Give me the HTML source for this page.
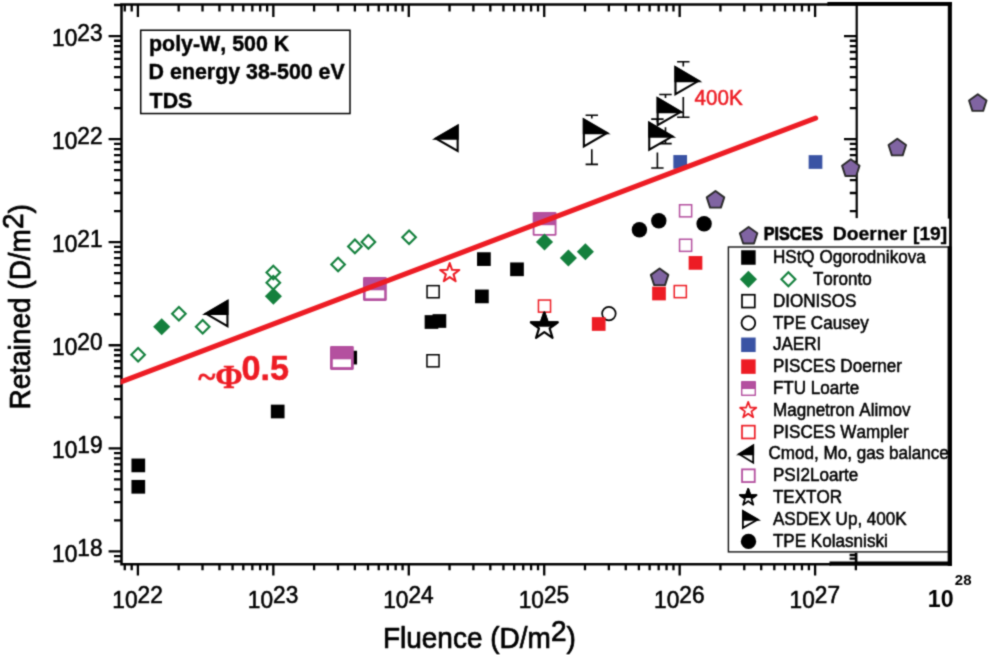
<!DOCTYPE html>
<html lang="en"><head><meta charset="utf-8"><title>Deuterium retention in tungsten vs fluence</title>
<style>html,body{margin:0;padding:0;background:#fff}body{width:994px;height:655px;overflow:hidden}svg{display:block}svg text{font-kerning:none}</style>
</head><body>
<svg width="994" height="655" viewBox="0 0 994 655">
<defs><filter id="soft" x="0" y="0" width="994" height="655" filterUnits="userSpaceOnUse" color-interpolation-filters="sRGB"><feConvolveMatrix order="3" kernelMatrix="1 3 1 3 12 3 1 3 1" divisor="28" edgeMode="duplicate" preserveAlpha="true"/></filter></defs>
<g filter="url(#soft)">
<rect width="994" height="655" fill="#fff"/>
<path d="M121.5 3.2V565.5M121.5 4.4H829M120.3 564.15H831" fill="none" stroke="#000" stroke-width="2.5"/>
<path d="M856.7 4.4V218.2" fill="none" stroke="#000" stroke-width="2.2"/>
<path d="M856.1 552.8V565" fill="none" stroke="#000" stroke-width="2.7"/>
<rect x="827.4" y="2" width="124.5" height="3.9" fill="#000"/>
<rect x="829.5" y="561.5" width="122.4" height="4.2" fill="#000"/>
<rect x="947.8" y="2" width="4.1" height="563.7" fill="#000"/>
<path d="M114 561.39H121.5M114 556.12H121.5M108.6 551.4H121.5M114 520.37H121.5M114 502.22H121.5M114 489.35H121.5M114 479.36H121.5M114 471.2H121.5M114 464.3H121.5M114 458.32H121.5M114 453.05H121.5M108.6 448.33H121.5M114 417.3H121.5M114 399.15H121.5M114 386.28H121.5M114 376.29H121.5M114 368.13H121.5M114 361.23H121.5M114 355.25H121.5M114 349.98H121.5M108.6 345.26H121.5M114 314.23H121.5M114 296.08H121.5M114 283.21H121.5M114 273.22H121.5M114 265.06H121.5M114 258.16H121.5M114 252.18H121.5M114 246.91H121.5M108.6 242.19H121.5M114 211.16H121.5M114 193.01H121.5M114 180.14H121.5M114 170.15H121.5M114 161.99H121.5M114 155.09H121.5M114 149.11H121.5M114 143.84H121.5M108.6 139.12H121.5M114 108.09H121.5M114 89.94H121.5M114 77.07H121.5M114 67.08H121.5M114 58.92H121.5M114 52.02H121.5M114 46.04H121.5M114 40.77H121.5M108.6 36.05H121.5M114 5.02H121.5M849.8 211.16H856.7M849.8 193.01H856.7M849.8 180.14H856.7M849.8 170.15H856.7M849.8 161.99H856.7M849.8 155.09H856.7M849.8 149.11H856.7M849.8 143.84H856.7M844 139.12H856.7M849.8 108.09H856.7M849.8 89.94H856.7M849.8 77.07H856.7M849.8 67.08H856.7M849.8 58.92H856.7M849.8 52.02H856.7M849.8 46.04H856.7M849.8 40.77H856.7M844 36.05H856.7M849.6 555H856.4M849.6 558.7H856.4M124.77 564.15V570.2M124.77 4.4V11.6M131.7 564.15V570.2M131.7 4.4V11.6M137.9 564.15V575.6M137.9 4.4V17.1M178.67 564.15V570.2M178.67 4.4V11.6M202.52 564.15V570.2M202.52 4.4V11.6M219.44 564.15V570.2M219.44 4.4V11.6M232.57 564.15V570.2M232.57 4.4V11.6M243.29 564.15V570.2M243.29 4.4V11.6M252.36 564.15V570.2M252.36 4.4V11.6M260.21 564.15V570.2M260.21 4.4V11.6M267.14 564.15V570.2M267.14 4.4V11.6M273.34 564.15V575.6M273.34 4.4V17.1M314.11 564.15V570.2M314.11 4.4V11.6M337.96 564.15V570.2M337.96 4.4V11.6M354.88 564.15V570.2M354.88 4.4V11.6M368.01 564.15V570.2M368.01 4.4V11.6M378.73 564.15V570.2M378.73 4.4V11.6M387.8 564.15V570.2M387.8 4.4V11.6M395.65 564.15V570.2M395.65 4.4V11.6M402.58 564.15V570.2M402.58 4.4V11.6M408.78 564.15V575.6M408.78 4.4V17.1M449.55 564.15V570.2M449.55 4.4V11.6M473.4 564.15V570.2M473.4 4.4V11.6M490.32 564.15V570.2M490.32 4.4V11.6M503.45 564.15V570.2M503.45 4.4V11.6M514.17 564.15V570.2M514.17 4.4V11.6M523.24 564.15V570.2M523.24 4.4V11.6M531.09 564.15V570.2M531.09 4.4V11.6M538.02 564.15V570.2M538.02 4.4V11.6M544.22 564.15V575.6M544.22 4.4V17.1M584.99 564.15V570.2M584.99 4.4V11.6M608.84 564.15V570.2M608.84 4.4V11.6M625.76 564.15V570.2M625.76 4.4V11.6M638.89 564.15V570.2M638.89 4.4V11.6M649.61 564.15V570.2M649.61 4.4V11.6M658.68 564.15V570.2M658.68 4.4V11.6M666.53 564.15V570.2M666.53 4.4V11.6M673.46 564.15V570.2M673.46 4.4V11.6M679.66 564.15V575.6M679.66 4.4V17.1M720.43 564.15V570.2M720.43 4.4V11.6M744.28 564.15V570.2M744.28 4.4V11.6M761.2 564.15V570.2M761.2 4.4V11.6M774.33 564.15V570.2M774.33 4.4V11.6M785.05 564.15V570.2M785.05 4.4V11.6M794.12 564.15V570.2M794.12 4.4V11.6M801.97 564.15V570.2M801.97 4.4V11.6M808.9 564.15V570.2M808.9 4.4V11.6M815.1 564.15V575.6M815.1 4.4V17.1M855.87 564.15V570.2" fill="none" stroke="#000" stroke-width="2.3"/>
<g font-family='"Liberation Sans", sans-serif' font-size="22.7" fill="#000" stroke="#000" stroke-width="0.55" stroke-linejoin="round">
<text transform="translate(52.1 561.5) scale(1 1.045)" >10<tspan dy="-4.9">18</tspan></text>
<text transform="translate(52.1 458.43) scale(1 1.045)" >10<tspan dy="-4.9">19</tspan></text>
<text transform="translate(52.1 355.36) scale(1 1.045)" >10<tspan dy="-4.9">20</tspan></text>
<text transform="translate(52.1 252.29) scale(1 1.045)" >10<tspan dy="-4.9">21</tspan></text>
<text transform="translate(52.1 149.22) scale(1 1.045)" >10<tspan dy="-4.9">22</tspan></text>
<text transform="translate(52.1 46.15) scale(1 1.045)" >10<tspan dy="-4.9">23</tspan></text>
<text transform="translate(137.6 608.3) scale(1 1.045)" text-anchor="middle">10<tspan dy="-5.3">22</tspan></text>
<text transform="translate(273.04 608.3) scale(1 1.045)" text-anchor="middle">10<tspan dy="-5.3">23</tspan></text>
<text transform="translate(408.48 608.3) scale(1 1.045)" text-anchor="middle">10<tspan dy="-5.3">24</tspan></text>
<text transform="translate(543.92 608.3) scale(1 1.045)" text-anchor="middle">10<tspan dy="-5.3">25</tspan></text>
<text transform="translate(679.36 608.3) scale(1 1.045)" text-anchor="middle">10<tspan dy="-5.3">26</tspan></text>
<text transform="translate(814.8 608.3) scale(1 1.045)" text-anchor="middle">10<tspan dy="-5.3">27</tspan></text>
</g>
<text transform="translate(927.8 606.8) scale(1 1.03)" font-family='"Liberation Sans", sans-serif' font-weight="700" font-size="23.2" fill="#000">10</text>
<text transform="translate(954.8 585.3) scale(1 1.03)" font-family='"Liberation Sans", sans-serif' font-weight="700" font-size="15" fill="#000">28</text>
<text transform="translate(382.9 647.6) scale(1 1.045)" font-family='"Liberation Sans", sans-serif' font-size="28" fill="#000" stroke="#000" stroke-width="0.7" stroke-linejoin="round">Fluence (D/m<tspan dy="-6.6">2</tspan><tspan dy="6.6">)</tspan></text>
<text transform="translate(30.2 409.5) rotate(-90) scale(1 1.045)" font-family='"Liberation Sans", sans-serif' font-size="28" fill="#000" stroke="#000" stroke-width="0.7" stroke-linejoin="round">Retained (D/m<tspan dy="-6.6">2</tspan><tspan dy="6.6">)</tspan></text>
<rect x="140.7" y="30.25" width="209.3" height="83.3" fill="#fff" stroke="#000" stroke-width="1.5"/>
<g font-family='"Liberation Sans", sans-serif' font-weight="700" font-size="21.4" fill="#000" stroke="#000" stroke-width="0.4" stroke-linejoin="round">
<text transform="translate(149 51) scale(1 1.045)" >poly-W, 500 K</text>
<text transform="translate(148.6 79.3) scale(1 1.045)" >D energy 38-500 eV</text>
<text transform="translate(149.6 107.5) scale(1 1.045)" >TDS</text>
</g>
<rect x="131.45" y="458.55" width="13.7" height="13.7" fill="#000"/>
<rect x="131.45" y="479.95" width="13.7" height="13.7" fill="#000"/>
<rect x="270.85" y="404.65" width="13.7" height="13.7" fill="#000"/>
<rect x="343.35" y="350.75" width="13.7" height="13.7" fill="#000"/>
<rect x="424.65" y="315.15" width="13.7" height="13.7" fill="#000"/>
<rect x="432.55" y="314.15" width="13.7" height="13.7" fill="#000"/>
<rect x="477.05" y="252.25" width="13.7" height="13.7" fill="#000"/>
<rect x="475.05" y="289.55" width="13.7" height="13.7" fill="#000"/>
<rect x="510.15" y="262.45" width="13.7" height="13.7" fill="#000"/>
<rect x="330" y="346.1" width="23.8" height="23.8" rx="1.3" fill="#b4509f"/><rect x="332.8" y="359.31" width="18.2" height="7.79" fill="#fff"/>
<rect x="363" y="277.1" width="23.8" height="23.8" rx="1.3" fill="#b4509f"/><rect x="365.6" y="290.31" width="18.6" height="7.99" fill="#fff"/>
<rect x="532.7" y="212" width="23.8" height="23.8" rx="1.3" fill="#b4509f"/><rect x="534.5" y="225.21" width="20.2" height="8.79" fill="#fff"/>
<rect x="673.35" y="155.05" width="13.7" height="13.7" fill="#3a53a4"/>
<rect x="808.65" y="155.15" width="13.7" height="13.7" fill="#3a53a4"/>
<clipPath id="lc"><rect x="120.6" y="0" width="880" height="655"/></clipPath>
<path d="M118 383.1L815.6 118.1" stroke="#ed1c24" stroke-width="5.15" stroke-linecap="round" fill="none" clip-path="url(#lc)"/>
<path d="M138.1 347.9L144.9 354.7L138.1 361.5L131.3 354.7Z" fill="none" stroke="#14803d" stroke-width="2.1"/>
<path d="M178.9 306.9L185.7 313.7L178.9 320.5L172.1 313.7Z" fill="none" stroke="#14803d" stroke-width="2.1"/>
<path d="M202.7 320L209.5 326.8L202.7 333.6L195.9 326.8Z" fill="none" stroke="#14803d" stroke-width="2.1"/>
<path d="M273.3 265.7L280.1 272.5L273.3 279.3L266.5 272.5Z" fill="none" stroke="#14803d" stroke-width="2.1"/>
<path d="M273.3 276L280.1 282.8L273.3 289.6L266.5 282.8Z" fill="none" stroke="#14803d" stroke-width="2.1"/>
<path d="M338.1 257.7L344.9 264.5L338.1 271.3L331.3 264.5Z" fill="none" stroke="#14803d" stroke-width="2.1"/>
<path d="M354.9 239.6L361.7 246.4L354.9 253.2L348.1 246.4Z" fill="none" stroke="#14803d" stroke-width="2.1"/>
<path d="M368.4 235.1L375.2 241.9L368.4 248.7L361.6 241.9Z" fill="none" stroke="#14803d" stroke-width="2.1"/>
<path d="M409.1 230.5L415.9 237.3L409.1 244.1L402.3 237.3Z" fill="none" stroke="#14803d" stroke-width="2.1"/>
<path d="M161.7 318.25L170.25 326.8L161.7 335.35L153.15 326.8Z" fill="#14803d"/>
<path d="M273.4 287.65L281.95 296.2L273.4 304.75L264.85 296.2Z" fill="#14803d"/>
<path d="M544.5 233.45L553.05 242L544.5 250.55L535.95 242Z" fill="#14803d"/>
<path d="M568.4 249.45L576.95 258L568.4 266.55L559.85 258Z" fill="#14803d"/>
<path d="M585.4 243.15L593.95 251.7L585.4 260.25L576.85 251.7Z" fill="#14803d"/>
<rect x="427.05" y="285.65" width="12.1" height="12.1" fill="#fff" stroke="#000" stroke-width="1.5"/>
<rect x="426.95" y="354.75" width="12.1" height="12.1" fill="#fff" stroke="#000" stroke-width="1.5"/>
<polygon points="449.7,263 452.07,269.83 459.31,269.98 453.54,274.35 455.64,281.27 449.7,277.14 443.76,281.27 445.86,274.35 440.09,269.98 447.33,269.83" fill="#fff" stroke="#ed1c24" stroke-width="2.0" stroke-linejoin="round"/>
<path d="M205.79 313.6L227.45 301.02L227.45 326.18Z" fill="#fff" stroke="#000" stroke-width="2.1" stroke-linejoin="miter"/><path d="M205.79 313.9L227.45 301.02L227.45 313.9Z" fill="#000" stroke="#000" stroke-width="2.1" stroke-linejoin="miter"/>
<path d="M435.8 138.4L457.65 125.82L457.65 150.98Z" fill="#fff" stroke="#000" stroke-width="2.1" stroke-linejoin="miter"/><path d="M435.8 138.7L457.65 125.82L457.65 138.7Z" fill="#000" stroke="#000" stroke-width="2.1" stroke-linejoin="miter"/>
<rect x="538.45" y="300.05" width="12.1" height="12.1" fill="#fff" stroke="#ed1c24" stroke-width="1.5"/>
<rect x="674.25" y="285.55" width="12.1" height="12.1" fill="#fff" stroke="#ed1c24" stroke-width="1.5"/>
<clipPath id="sc1"><rect x="527.3" y="309.6" width="34" height="17.2"/></clipPath><polygon points="544.3,312.6 547.59,322.07 557.61,322.27 549.63,328.33 552.53,337.93 544.3,332.2 536.07,337.93 538.97,328.33 530.99,322.27 541.01,322.07" fill="#fff" stroke="#000" stroke-width="2.2" stroke-linejoin="round"/><polygon points="544.3,312.6 547.59,322.07 557.61,322.27 549.63,328.33 552.53,337.93 544.3,332.2 536.07,337.93 538.97,328.33 530.99,322.27 541.01,322.07" fill="#000" stroke="#000" stroke-width="2.2" stroke-linejoin="round" clip-path="url(#sc1)"/>
<circle cx="608.9" cy="313.6" r="6.8" fill="#fff" stroke="#000" stroke-width="1.7"/>
<rect x="591.85" y="317.15" width="13.7" height="13.7" fill="#ed1c24"/>
<rect x="652.15" y="286.65" width="13.7" height="13.7" fill="#ed1c24"/>
<rect x="688.65" y="256.05" width="13.7" height="13.7" fill="#ed1c24"/>
<circle cx="639.4" cy="229.8" r="7.7" fill="#000"/>
<circle cx="658.8" cy="220.8" r="7.7" fill="#000"/>
<circle cx="704.1" cy="223.7" r="7.7" fill="#000"/>
<rect x="679.55" y="204.75" width="12.1" height="12.1" fill="#fff" stroke="#b4509f" stroke-width="1.5"/>
<rect x="679.55" y="239.25" width="12.1" height="12.1" fill="#fff" stroke="#b4509f" stroke-width="1.5"/>
<path d="M591.8 115.2V118.5M591.8 149.2V164.4M585.6 115.2H598M585.6 164.4H598" fill="none" stroke="#000" stroke-width="1.6"/>
<path d="M607.01 133L583.85 119.53L583.85 146.47Z" fill="#fff" stroke="#000" stroke-width="2.1" stroke-linejoin="miter"/><path d="M607.01 133.3L583.85 119.53L583.85 133.3Z" fill="#000" stroke="#000" stroke-width="2.1" stroke-linejoin="miter"/>
<path d="M683.3 61.7V66.5M683.3 97V117.2M677.1 61.7H689.5M677.1 117.2H689.5" fill="none" stroke="#000" stroke-width="1.6"/>
<path d="M698.61 80.8L675.45 67.33L675.45 94.27Z" fill="#fff" stroke="#000" stroke-width="2.1" stroke-linejoin="miter"/><path d="M698.61 81.1L675.45 67.33L675.45 81.1Z" fill="#000" stroke="#000" stroke-width="2.1" stroke-linejoin="miter"/>
<path d="M665.5 94.5V98M665.5 127.3V143.6M659.3 94.5H671.7M659.3 143.6H671.7" fill="none" stroke="#000" stroke-width="1.6"/>
<path d="M680.81 111.8L657.65 98.33L657.65 125.27Z" fill="#fff" stroke="#000" stroke-width="2.1" stroke-linejoin="miter"/><path d="M680.81 112.1L657.65 98.33L657.65 112.1Z" fill="#000" stroke="#000" stroke-width="2.1" stroke-linejoin="miter"/>
<path d="M657.4 119.1V122M657.4 152.4V168M651.2 119.1H663.6M651.2 168H663.6" fill="none" stroke="#000" stroke-width="1.6"/>
<path d="M672.41 136.3L649.25 122.83L649.25 149.77Z" fill="#fff" stroke="#000" stroke-width="2.1" stroke-linejoin="miter"/><path d="M672.41 136.6L649.25 122.83L649.25 136.6Z" fill="#000" stroke="#000" stroke-width="2.1" stroke-linejoin="miter"/>
<text transform="translate(694.6 104.5) scale(1 1.045)" font-family='"Liberation Sans", sans-serif' font-size="20.6" fill="#ed1c24" stroke="#ed1c24" stroke-width="0.5" stroke-linejoin="round">400K</text>
<text x="198.2" y="387.6" font-family='"Liberation Serif", serif' font-weight="700" font-size="33" fill="#ed1c24" stroke="#ed1c24" stroke-width="0.4" stroke-linejoin="round">~Φ</text>
<text transform="translate(241.6 379.6) scale(1 1.045)" font-family='"Liberation Sans", sans-serif' font-weight="700" font-size="34.2" fill="#ed1c24" stroke="#ed1c24" stroke-width="0.5" stroke-linejoin="round">0.5</text>
<polygon points="977.8,94.2 986.55,100.56 983.21,110.84 972.39,110.84 969.05,100.56" fill="#8064a2" stroke="#2a2a2a" stroke-width="1.9" stroke-linejoin="round"/>
<polygon points="897.3,138.7 906.05,145.06 902.71,155.34 891.89,155.34 888.55,145.06" fill="#8064a2" stroke="#2a2a2a" stroke-width="1.9" stroke-linejoin="round"/>
<polygon points="850.8,159.3 859.55,165.66 856.21,175.94 845.39,175.94 842.05,165.66" fill="#8064a2" stroke="#2a2a2a" stroke-width="1.9" stroke-linejoin="round"/>
<polygon points="715.5,191 724.25,197.36 720.91,207.64 710.09,207.64 706.75,197.36" fill="#8064a2" stroke="#2a2a2a" stroke-width="1.9" stroke-linejoin="round"/>
<polygon points="659.6,268.5 668.35,274.86 665.01,285.14 654.19,285.14 650.85,274.86" fill="#8064a2" stroke="#2a2a2a" stroke-width="1.9" stroke-linejoin="round"/>
<rect x="735" y="218.6" width="214.1" height="28" fill="#fff"/>
<polygon points="748.6,226.9 757.35,233.26 754.01,243.54 743.19,243.54 739.85,233.26" fill="#8064a2" stroke="#2a2a2a" stroke-width="1.9" stroke-linejoin="round"/>
<g font-family='"Liberation Sans", sans-serif' font-weight="700" font-size="17.8" fill="#000">
<text transform="translate(763.7 240) scale(1 1.045)" textLength="59.3" lengthAdjust="spacingAndGlyphs" stroke="#000" stroke-width="0.7" stroke-linejoin="round">PISCES</text>
<text transform="translate(832.8 240) scale(1 1.045)" textLength="74.2" lengthAdjust="spacingAndGlyphs" stroke="#000" stroke-width="0.3" stroke-linejoin="round">Doerner</text>
<text transform="translate(913 240) scale(1 1.045)" textLength="34.2" lengthAdjust="spacingAndGlyphs" stroke="#000" stroke-width="0.3" stroke-linejoin="round">[19]</text>
</g>
<rect x="728.4" y="247" width="220" height="304.9" fill="#fff" stroke="#111" stroke-width="1.4"/>
<rect x="947.8" y="246.5" width="4.1" height="319.2" fill="#000"/>
<g font-family='"Liberation Sans", sans-serif' font-size="17.1" fill="#000" stroke="#000" stroke-width="0.5" stroke-linejoin="round">
<text transform="translate(772.9 263.1) scale(1 1.045)" >HStQ Ogorodnikova</text>
<text transform="translate(812.9 284.92) scale(1 1.045)" >Toronto</text>
<text transform="translate(772.9 306.74) scale(1 1.045)" >DIONISOS</text>
<text transform="translate(772.9 328.56) scale(1 1.045)" >TPE Causey</text>
<text transform="translate(772.9 350.38) scale(1 1.045)" >JAERI</text>
<text transform="translate(772.9 372.2) scale(1 1.045)" >PISCES Doerner</text>
<text transform="translate(772.9 394.02) scale(1 1.045)" >FTU Loarte</text>
<text transform="translate(772.9 415.84) scale(1 1.045)" >Magnetron Alimov</text>
<text transform="translate(772.9 437.66) scale(1 1.045)" >PISCES Wampler</text>
<text transform="translate(768.4 459.48) scale(1 1.045)" >Cmod, Mo, gas balance</text>
<text transform="translate(772.9 481.3) scale(1 1.045)" >PSI2Loarte</text>
<text transform="translate(772.9 503.12) scale(1 1.045)" >TEXTOR</text>
<text transform="translate(772.9 524.94) scale(1 1.045)" >ASDEX Up, 400K</text>
<text transform="translate(772.9 546.76) scale(1 1.045)" >TPE Kolasniski</text>
</g>
<rect x="741.15" y="250.25" width="14.5" height="14.5" fill="#000"/>
<path d="M748.4 270.72L757 279.32L748.4 287.92L739.8 279.32Z" fill="#14803d"/>
<path d="M788.4 272.32L795.4 279.32L788.4 286.32L781.4 279.32Z" fill="none" stroke="#14803d" stroke-width="2.1"/>
<rect x="742" y="294.74" width="12.8" height="12.8" fill="#fff" stroke="#000" stroke-width="1.7"/>
<circle cx="748.4" cy="322.96" r="6.85" fill="#fff" stroke="#000" stroke-width="1.8"/>
<rect x="741.15" y="337.53" width="14.5" height="14.5" fill="#3a53a4"/>
<rect x="741.15" y="359.35" width="14.5" height="14.5" fill="#ed1c24"/>
<rect x="741" y="381" width="15" height="15" rx="0.8" fill="#b4509f"/><rect x="742.4" y="389.02" width="12.2" height="5.57" fill="#fff"/>
<polygon points="748.2,401.8 750.21,407.58 756.33,407.71 751.45,411.41 753.23,417.27 748.2,413.77 743.17,417.27 744.95,411.41 740.07,407.71 746.19,407.58" fill="#fff" stroke="#ed1c24" stroke-width="1.7" stroke-linejoin="round"/>
<rect x="742" y="425.66" width="12.8" height="12.8" fill="#fff" stroke="#ed1c24" stroke-width="1.7"/>
<path d="M739.03 454.1L753.2 445.5L753.2 462.7Z" fill="#fff" stroke="#000" stroke-width="1.8" stroke-linejoin="miter"/><path d="M739.03 454.4L753.2 445.5L753.2 454.4Z" fill="#000" stroke="#000" stroke-width="1.8" stroke-linejoin="miter"/>
<rect x="742.05" y="469.35" width="12.7" height="12.7" fill="#fff" stroke="#b4509f" stroke-width="1.8"/>
<clipPath id="sc2"><rect x="736.55" y="486.05" width="23.3" height="11.85"/></clipPath><polygon points="748.2,489.05 750.23,494.9 756.43,495.03 751.49,498.77 753.28,504.7 748.2,501.16 743.12,504.7 744.91,498.77 739.97,495.03 746.17,494.9" fill="#fff" stroke="#000" stroke-width="1.8" stroke-linejoin="round"/><polygon points="748.2,489.05 750.23,494.9 756.43,495.03 751.49,498.77 753.28,504.7 748.2,501.16 743.12,504.7 744.91,498.77 739.97,495.03 746.17,494.9" fill="#000" stroke="#000" stroke-width="1.8" stroke-linejoin="round" clip-path="url(#sc2)"/>
<path d="M757.76 519.5L742.9 511.14L742.9 527.86Z" fill="#fff" stroke="#000" stroke-width="1.8" stroke-linejoin="miter"/><path d="M757.76 519.8L742.9 511.14L742.9 519.8Z" fill="#000" stroke="#000" stroke-width="1.8" stroke-linejoin="miter"/>
<circle cx="748.5" cy="541.4" r="7.7" fill="#000"/>
</g>
</svg>
</body></html>
